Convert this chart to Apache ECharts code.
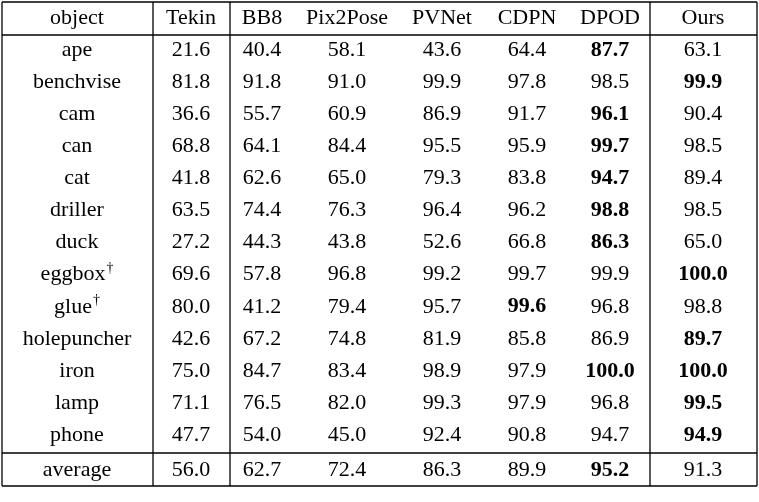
<!DOCTYPE html>
<html><head><meta charset="utf-8">
<script src="https://cdn.jsdelivr.net/npm/echarts@6/dist/echarts.min.js"></script>
<style>html,body{margin:0;background:#fff}#c{width:759px;height:502px}</style>
</head><body><div id="c"></div>
<script>
var columns = ['object', 'Tekin', 'BB8', 'Pix2Pose', 'PVNet', 'CDPN', 'DPOD', 'Ours'];
var objects = ['ape', 'benchvise', 'cam', 'can', 'cat', 'driller', 'duck', 'eggbox{s|†}', 'glue{s|†}', 'holepuncher', 'iron', 'lamp', 'phone', 'average'];
var tekin = [21.6, 81.8, 36.6, 68.8, 41.8, 63.5, 27.2, 69.6, 80.0, 42.6, 75.0, 71.1, 47.7, 56.0];
var bb8 = [40.4, 91.8, 55.7, 64.1, 62.6, 74.4, 44.3, 57.8, 41.2, 67.2, 84.7, 76.5, 54.0, 62.7];
var pix2pose = [58.1, 91.0, 60.9, 84.4, 65.0, 76.3, 43.8, 96.8, 79.4, 74.8, 83.4, 82.0, 45.0, 72.4];
var pvnet = [43.6, 99.9, 86.9, 95.5, 79.3, 96.4, 52.6, 99.2, 95.7, 81.9, 98.9, 99.3, 92.4, 86.3];
var cdpn = [64.4, 97.8, 91.7, 95.9, 83.8, 96.2, 66.8, 99.7, 99.6, 85.8, 97.9, 97.9, 90.8, 89.9];
var dpod = [87.7, 98.5, 96.1, 99.7, 94.7, 98.8, 86.3, 99.9, 96.8, 86.9, 100.0, 96.8, 94.7, 95.2];
var ours = [63.1, 99.9, 90.4, 98.5, 89.4, 98.5, 65.0, 100.0, 98.8, 89.7, 100.0, 99.5, 94.9, 91.3];
// bold cells per row: indices into the value columns (0=Tekin ... 6=Ours)
var boldCols = [[5], [6], [5], [5], [5], [5], [5], [6], [4], [6], [5, 6], [6], [6], [5]];

// layout (pixels)
var colX = [77, 191, 262, 347, 442, 527, 610, 703];
var headerY = 18, rowY0 = 50, rowStep = 32.1, avgY = 470;

var seriesVals = [tekin, bb8, pix2pose, pvnet, cdpn, dpod, ours];
var cells = [];
columns.forEach(function (c, i) { cells.push([colX[i], headerY, c, 0]); });
objects.forEach(function (o, r) {
    var y = r === objects.length - 1 ? avgY : rowY0 + r * rowStep;
    cells.push([colX[0], y, o, 0]);
    seriesVals.forEach(function (s, k) {
        cells.push([colX[k + 1], y, s[r].toFixed(1), boldCols[r].indexOf(k) >= 0 ? 1 : 0]);
    });
});

var font = '"Liberation Serif", "DejaVu Serif", serif';
function hline(y) { return { type: 'line', shape: { x1: 2, y1: y, x2: 757, y2: y }, style: { stroke: '#000', lineWidth: 1.3 } }; }
function vline(x) { return { type: 'line', shape: { x1: x, y1: 2, x2: x, y2: 486 }, style: { stroke: '#000', lineWidth: 1.3 } }; }

var chart = echarts.init(document.getElementById('c'));
chart.setOption({
    animation: false,
    grid: { left: 0, right: 0, top: 0, bottom: 0 },
    xAxis: { type: 'value', min: 0, max: 759, show: false },
    yAxis: { type: 'value', min: 0, max: 502, inverse: true, show: false },
    graphic: [hline(2), hline(35), hline(453), hline(486), vline(2), vline(153), vline(230), vline(650), vline(757)],
    series: [{
        type: 'custom',
        data: cells,
        renderItem: function (params, api) {
            var p = api.coord([api.value(0), api.value(1)]);
            var d = cells[params.dataIndex];
            return {
                type: 'text',
                x: p[0], y: p[1],
                style: {
                    text: d[2], align: 'center', verticalAlign: 'middle',
                    font: (d[3] ? 'bold ' : '') + '22px ' + font, fill: '#000',
                    rich: { s: { fontSize: 14, verticalAlign: 'top', padding: [0, 0, 12, 1], fontFamily: font } }
                }
            };
        }
    }]
});
</script></body></html>
